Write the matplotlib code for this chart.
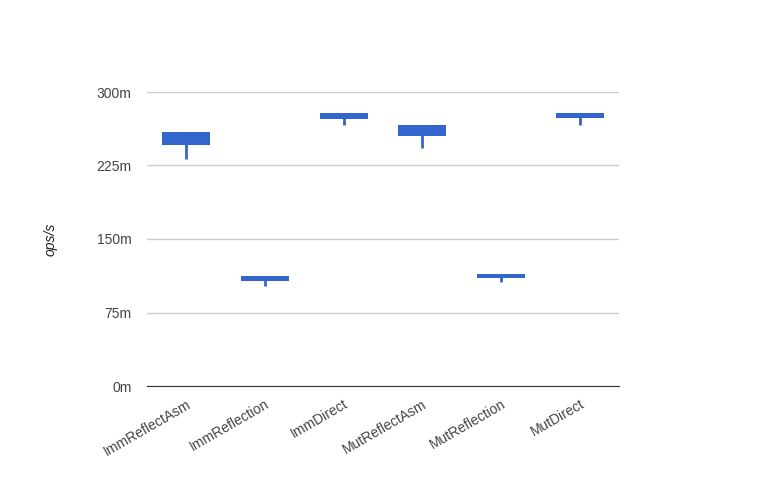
import matplotlib.pyplot as plt
import numpy as np

# benchmark names and candlestick values (millions ops/s)
benchmarks = ["ImmReflectAsm", "ImmReflection", "ImmDirect", "MutReflectAsm", "MutReflection", "MutDirect"]
low = [231.6, 102.0, 266.7, 243.2, 106.4, 266.7]
open_ = [246.2, 107.5, 272.8, 255.4, 110.5, 273.8]
close = [259.2, 112.2, 278.6, 266.3, 114.3, 278.6]
high = [259.2, 112.2, 278.6, 266.3, 114.3, 278.6]
y_ticks = [0, 75, 150, 225, 300]
y_tick_labels = ["0m", "75m", "150m", "225m", "300m"]

plt.rcParams['font.family'] = ['Liberation Sans', 'DejaVu Sans']

fig = plt.figure(figsize=(7.65, 4.78), dpi=100)
ax = fig.add_axes([147 / 765, 92 / 478, 472 / 765, 294 / 478])

blue = "#3366cc"
x = np.arange(len(benchmarks)) + 0.5
for i in range(len(benchmarks)):
    ax.plot([x[i], x[i]], [low[i], high[i]], color=blue, lw=2, solid_capstyle="butt", zorder=2)
    ax.bar(x[i], close[i] - open_[i], bottom=open_[i], width=0.61, color=blue, zorder=3)

ax.set_xlim(0, len(benchmarks))
ax.set_ylim(0, 300)
ax.set_yticks(y_ticks)
ax.set_yticklabels(y_tick_labels)
ax.set_xticks(x)
ax.set_xticklabels(benchmarks, rotation=30, ha="right", rotation_mode="anchor")
ax.yaxis.grid(True, color="#cccccc", lw=1)
ax.set_axisbelow(True)
ax.tick_params(axis="both", length=0, labelsize=10, colors="#444444")
ax.tick_params(axis="y", pad=11)
ax.tick_params(axis="x", pad=8)
for s in ["left", "right", "top"]:
    ax.spines[s].set_visible(False)
ax.spines["bottom"].set_color("#333333")
ax.set_ylabel("ops/s", style="italic", fontsize=10, color="#222222")
ax.yaxis.set_label_coords(-0.19, 0.5)

fig.savefig("out.png", dpi=100)
